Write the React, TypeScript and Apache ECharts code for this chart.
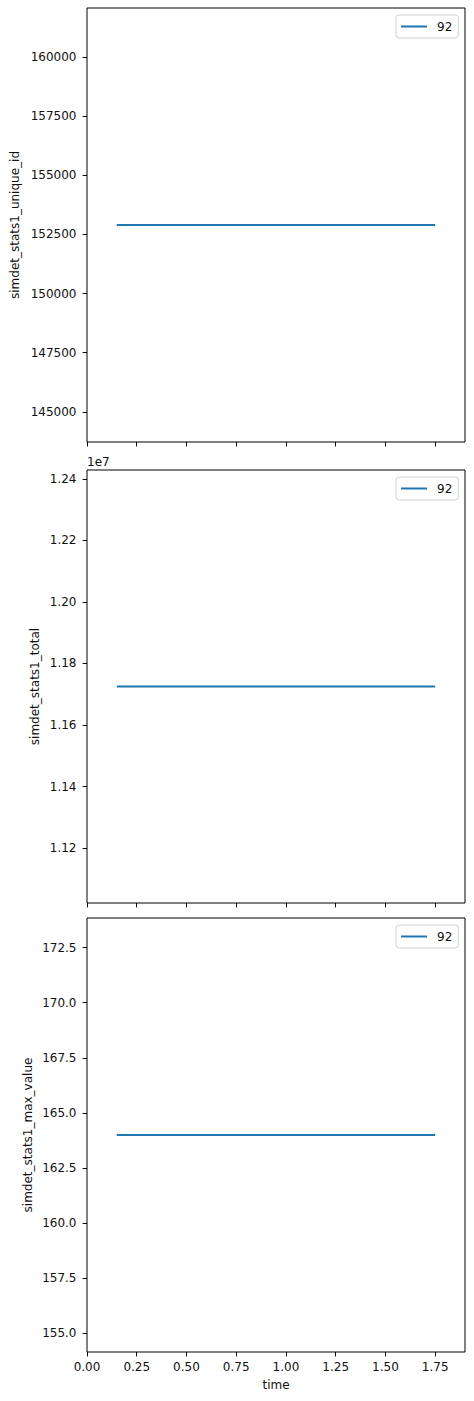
import React, { useEffect, useRef } from "react";
import * as echarts from "echarts";

// ---- data ----
const seriesName = "92";
const times = [0.15, 1.75];
const uniqueIdValues = [152900, 152900];
const totalValues = [11725000, 11725000];
const maxValueValues = [164.0, 164.0];

const xTicks = [0, 0.25, 0.5, 0.75, 1.0, 1.25, 1.5, 1.75];
const yTicks1 = [145000, 147500, 150000, 152500, 155000, 157500, 160000];
const yTicks2 = [11200000, 11400000, 11600000, 11800000, 12000000, 12200000, 12400000];
const yTicks3 = [155.0, 157.5, 160.0, 162.5, 165.0, 167.5, 170.0, 172.5];

const xRange = [0, 1.9];
const yRange1 = [143726, 162074];
const yRange2 = [11021500, 12428500];
const yRange3 = [154.16, 173.84];

const yLabels = ["simdet_stats1_unique_id", "simdet_stats1_total", "simdet_stats1_max_value"];
const xLabel = "time";
const offsetText = "1e7";

const FONT = "DejaVu Sans";
const BLUE = "#1f77b4";
const TEXT = "#111";

export default function App() {
  const ref = useRef<HTMLDivElement>(null);
  useEffect(() => {
    document.body.style.margin = "0";
    const chart = echarts.init(ref.current!, null, { renderer: "svg" });
    const grids = [
      { left: 87, top: 8, width: 378, height: 434 },
      { left: 87, top: 470, width: 378, height: 433 },
      { left: 87, top: 918, width: 378, height: 434 },
    ];
    const yRanges = [yRange1, yRange2, yRange3];
    const yTicks = [yTicks1, yTicks2, yTicks3];
    const yFmt = [
      (v: number) => String(Math.round(v)),
      (v: number) => (v / 1e7).toFixed(2),
      (v: number) => v.toFixed(1),
    ];
    const values = [uniqueIdValues, totalValues, maxValueValues];
    const labelX = [15, 35, 28];

    const option: any = {
      animation: false,
      backgroundColor: "#fff",
      textStyle: { fontFamily: FONT },
      grid: grids.map((g) => ({
        ...g,
        show: true,
        borderColor: "#000",
        borderWidth: 1,
        backgroundColor: "transparent",
        containLabel: false,
      })),
      xAxis: grids.map((_, i) => ({
        type: "value",
        gridIndex: i,
        min: xRange[0],
        max: xRange[1],
        axisLine: { show: false },
        splitLine: { show: false },
        axisTick: {
          show: true,
          length: 4.4,
          lineStyle: { color: "#000", width: 1 },
          customValues: xTicks,
        },
        axisLabel: {
          show: i === 2,
          customValues: xTicks,
          formatter: (v: number) => v.toFixed(2),
          fontFamily: FONT,
          fontSize: 12,
          color: TEXT,
          margin: 9,
        },
        name: i === 2 ? xLabel : "",
        nameLocation: "middle",
        nameGap: 27,
        nameTextStyle: { fontFamily: FONT, fontSize: 12, color: TEXT },
      })),
      yAxis: grids.map((_, i) => ({
        type: "value",
        gridIndex: i,
        min: yRanges[i][0],
        max: yRanges[i][1],
        axisLine: { show: false },
        splitLine: { show: false },
        axisTick: {
          show: true,
          length: 4.4,
          lineStyle: { color: "#000", width: 1 },
          customValues: yTicks[i],
        },
        axisLabel: {
          show: true,
          customValues: yTicks[i],
          formatter: yFmt[i],
          fontFamily: FONT,
          fontSize: 12,
          color: TEXT,
          margin: 10.5,
        },
      })),
      legend: grids.map((g) => ({
        data: [seriesName],
        left: 396,
        top: g.top + 7,
        orient: "vertical",
        selectedMode: false,
        icon: "rect",
        itemWidth: 26,
        itemHeight: 2,
        padding: [5, 6, 5, 5],
        borderColor: "#d0d0d0",
        borderWidth: 1,
        borderRadius: 3,
        backgroundColor: "#fff",
        textStyle: {
          fontFamily: FONT,
          fontSize: 12,
          lineHeight: 13,
          color: TEXT,
          padding: [0, 0, 0, 5],
        },
      })),
      series: values.map((vals, i) => ({
        name: seriesName,
        type: "line",
        xAxisIndex: i,
        yAxisIndex: i,
        symbol: "none",
        showSymbol: false,
        lineStyle: { color: BLUE, width: 1.9 },
        itemStyle: { color: BLUE },
        data: times.map((t, k) => [t, vals[k]]),
      })),
      graphic: [
        ...grids.map((g, i) => ({
          type: "text",
          x: labelX[i],
          y: g.top + g.height / 2,
          rotation: Math.PI / 2,
          style: {
            text: yLabels[i],
            fontFamily: FONT,
            fontSize: 12,
            fill: TEXT,
            align: "center",
            verticalAlign: "middle",
          },
        })),
        {
          type: "text",
          x: 87,
          y: 462,
          style: {
            text: offsetText,
            fontFamily: FONT,
            fontSize: 12,
            fill: TEXT,
            align: "left",
            verticalAlign: "middle",
          },
        },
      ],
    };
    chart.setOption(option);
    return () => chart.dispose();
  }, []);
  return <div ref={ref} style={{ width: 474, height: 1401 }} />;
}
